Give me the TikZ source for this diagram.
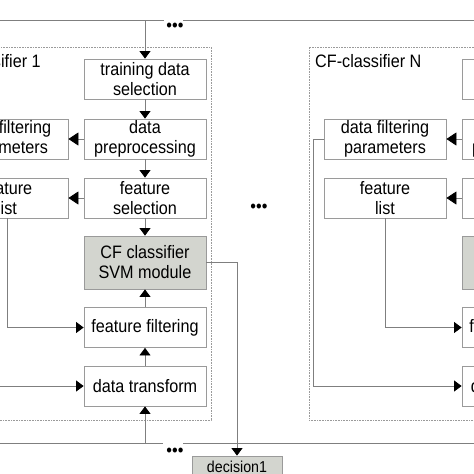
\documentclass[tikz,border=0pt]{standalone}
\usepackage{fontspec}
\setmainfont{Liberation Sans}[FakeStretch=0.9]
\usetikzlibrary{arrows.meta}
\definecolor{boxline}{HTML}{9A9A9A}
\definecolor{connc}{HTML}{7F7F7F}
\definecolor{svmfill}{HTML}{D3D5CF}
\begin{document}
\begin{tikzpicture}[x=1pt,y=-1pt,
  font=\fontsize{18}{20}\selectfont,
  stepbox/.style={draw=boxline,line width=0.8pt,fill=white,minimum width=122pt,minimum height=40pt,align=center,inner sep=0pt},
  svmbox/.style={stepbox,fill=svmfill,minimum height=53pt},
  group/.style={draw=boxline,densely dotted,line width=0.6pt,minimum width=280pt,minimum height=373pt,inner sep=0pt},
  conn/.style={draw=connc,line width=0.8pt},
  arr/.style={conn,-{Triangle[length=7.5pt,width=11pt,color=black]}},
  arrh/.style={conn,-{Triangle[length=10pt,width=13pt,color=black]}},
  dots/.style={font=\fontsize{18}{18}\selectfont,inner sep=0pt},
  lbl/.style={anchor=base west,inner sep=0pt}]
\useasboundingbox (0,0) rectangle (474,474);
\clip (0,0) rectangle (474,474);
% groups
\node[group] (g1) at (71,233.5) {};
\node[group] (gN) at (449,233.5) {};
\node[lbl] (l1) at (-63,67) {CF-classifier 1};
\node[lbl] (lN) at (315,67) {CF-classifier N};
% classifier 1
\node[stepbox] (t1) at (145,79) {training data\\selection};
\node[stepbox] (p1) at (145,139) {data\\preprocessing};
\node[stepbox] (s1) at (145,198) {feature\\selection};
\node[svmbox] (m1) at (145,262.5) {CF classifier\\SVM module};
\node[stepbox] (f1) at (145,327.5) {feature filtering};
\node[stepbox] (d1) at (145,386) {data transform};
\node[stepbox] (dfp1) at (7,139) {data filtering\\parameters};
\node[stepbox] (fl1) at (7,198) {feature\\list};
% classifier N
\node[stepbox] (tN) at (523,79) {training data\\selection};
\node[stepbox] (pN) at (523,139) {data\\preprocessing};
\node[stepbox] (sN) at (523,198) {feature\\selection};
\node[svmbox] (mN) at (523,262.5) {CF classifier\\SVM module};
\node[stepbox] (fN) at (523,327.5) {feature filtering};
\node[stepbox] (dN) at (523,386) {data transform};
\node[stepbox] (dfpN) at (385,139) {data filtering\\parameters};
\node[stepbox] (flN) at (385,198) {feature\\list};
% decision
\node[stepbox,fill=svmfill,minimum width=90pt,minimum height=22pt,font=\fontsize{15.8}{17}\selectfont] (dec1) at (237,467) {decision1};
% dots
\node[dots] (dtop) at (175,27) {•••};
\node[dots] (dmid) at (259,208) {•••};
\node[dots] (dbot) at (175,452) {•••};
% top and bottom lines
\coordinate (topL) at (0,20);
\coordinate (topA) at (164,20);
\coordinate (topB) at (183,20);
\coordinate (topR) at (474,20);
\coordinate (botL) at (0,443);
\coordinate (botA) at (163,443);
\coordinate (botB) at (183,443);
\coordinate (botR) at (474,443);
\draw[conn] (topL) -- (topA);
\draw[conn] (topB) -- (topR);
\draw[conn] (botL) -- (botA);
\draw[conn] (botB) -- (botR);
% classifier 1 connectors
\draw[arr] (t1.north |- topL) -- (t1.north);
\draw[arr] (t1) -- (p1);
\draw[arr] (p1) -- (s1);
\draw[arr] (s1) -- (m1);
\draw[arr] (f1) -- (m1);
\draw[arr] (d1) -- (f1);
\draw[arr] (d1.south |- botL) -- (d1.south);
\draw[arrh] (p1) -- (dfp1);
\draw[arrh] (s1) -- (fl1);
\draw[arr] (fl1.south) |- (f1.west);
\draw[arr] (dfp1.west) -- ++(-10,0) |- (d1.west);
\draw[arr] (m1.east) -| (dec1.north);
% classifier N connectors
\draw[arr] (tN.north |- topL) -- (tN.north);
\draw[arr] (tN) -- (pN);
\draw[arr] (pN) -- (sN);
\draw[arr] (sN) -- (mN);
\draw[arr] (fN) -- (mN);
\draw[arr] (dN) -- (fN);
\draw[arr] (dN.south |- botL) -- (dN.south);
\draw[arrh] (pN) -- (dfpN);
\draw[arrh] (sN) -- (flN);
\draw[arr] (flN.south) |- (fN.west);
\draw[arr] (dfpN.west) -- ++(-10,0) |- (dN.west);
\end{tikzpicture}
\end{document}
